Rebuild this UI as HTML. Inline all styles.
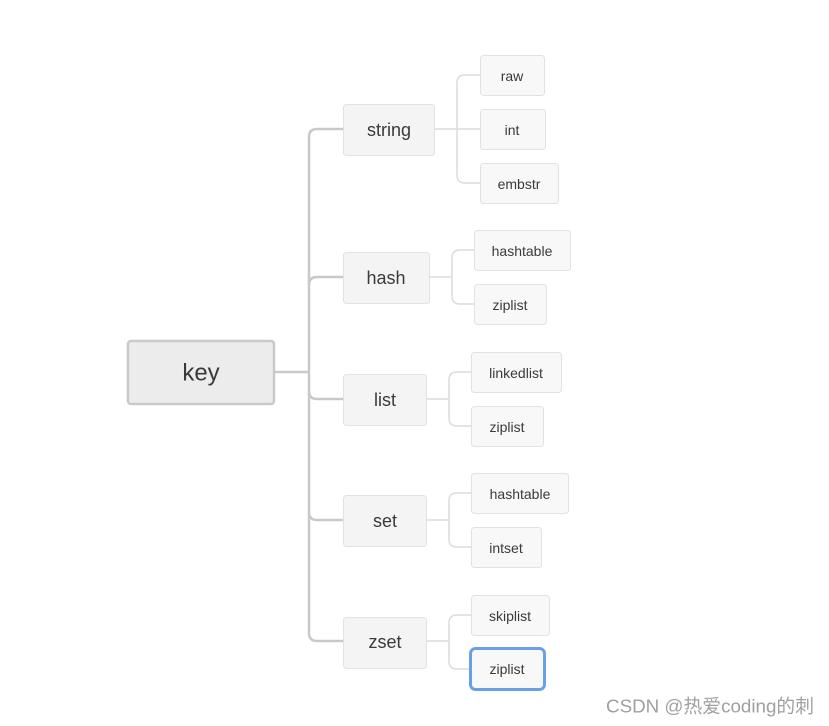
<!DOCTYPE html>
<html><head><meta charset="utf-8"><style>
html,body{margin:0;padding:0;background:#fff;}
svg{display:block;}
text{font-family:"Liberation Sans",Arial,sans-serif;fill:#3a3a3a;text-anchor:middle;dominant-baseline:central;}
</style></head><body>
<svg width="829" height="726" viewBox="0 0 829 726" xmlns="http://www.w3.org/2000/svg">
<g fill="none" stroke="#c9c9c9" stroke-width="2.5">
<path d="M274 372 H309"/>
<path d="M343 129 H317 Q309 129 309 137 V633 Q309 641 317 641 H343"/>
<path d="M309 285 Q309 277 317 277 H343"/>
<path d="M309 391 Q309 399 317 399 H343"/>
<path d="M309 512 Q309 520 317 520 H343"/>
</g>
<g fill="none" stroke="#dcdcdc" stroke-width="1.5">
<path d="M434 129 H480"/>
<path d="M480 75 H465 Q457 75 457 83 V175 Q457 183 465 183 H480"/>
<path d="M429 277 H452"/>
<path d="M474 250 H460 Q452 250 452 258 V296 Q452 304 460 304 H474"/>
<path d="M426 399 H449"/>
<path d="M471 372 H457 Q449 372 449 380 V418 Q449 426 457 426 H471"/>
<path d="M426 520 H449"/>
<path d="M471 493 H457 Q449 493 449 501 V539 Q449 547 457 547 H471"/>
<path d="M426 641 H449"/>
<path d="M471 615 H457 Q449 615 449 623 V661 Q449 669 457 669 H471"/>
</g>
<rect x="128" y="341" width="146" height="63" rx="3" fill="#ececec" stroke="#c9c9c9" stroke-width="2.5"/>
<text x="201" y="373" font-size="24">key</text>
<g fill="#f4f4f4" stroke="#e2e2e2" stroke-width="1">
<rect x="343.5" y="104.5" width="91" height="51" rx="3"/>
<rect x="343.5" y="252.5" width="86" height="51" rx="3"/>
<rect x="343.5" y="374.5" width="83" height="51" rx="3"/>
<rect x="343.5" y="495.5" width="83" height="51" rx="3"/>
<rect x="343.5" y="617.5" width="83" height="51" rx="3"/>
</g>
<g font-size="18">
<text x="389" y="130">string</text>
<text x="386" y="278">hash</text>
<text x="385" y="400">list</text>
<text x="385" y="521">set</text>
<text x="385" y="642">zset</text>
</g>
<g fill="#f8f8f8" stroke="#e2e2e2" stroke-width="1">
<rect x="480.5" y="55.5" width="64" height="40" rx="3"/>
<rect x="480.5" y="109.5" width="65" height="40" rx="3"/>
<rect x="480.5" y="163.5" width="78" height="40" rx="3"/>
<rect x="474.5" y="230.5" width="96" height="40" rx="3"/>
<rect x="474.5" y="284.5" width="72" height="40" rx="3"/>
<rect x="471.5" y="352.5" width="90" height="40" rx="3"/>
<rect x="471.5" y="406.5" width="72" height="40" rx="3"/>
<rect x="471.5" y="473.5" width="97" height="40" rx="3"/>
<rect x="471.5" y="527.5" width="70" height="40" rx="3"/>
<rect x="471.5" y="595.5" width="78" height="40" rx="3"/>
</g>
<rect x="470.5" y="648.5" width="74" height="41" rx="5" fill="#f8f8f8" stroke="#6aa1e6" stroke-width="3"/>
<g font-size="14">
<text x="512" y="76">raw</text>
<text x="512" y="130">int</text>
<text x="519" y="184">embstr</text>
<text x="522" y="251">hashtable</text>
<text x="510" y="305">ziplist</text>
<text x="516" y="373">linkedlist</text>
<text x="507" y="427">ziplist</text>
<text x="520" y="494">hashtable</text>
<text x="506" y="548">intset</text>
<text x="510" y="616">skiplist</text>
<text x="507" y="669">ziplist</text>
</g>
<text x="710" y="706" font-size="18.8" style="fill:#a0a0a0;font-family:'Liberation Sans','Noto Sans CJK SC',sans-serif">CSDN @热爱coding的刺</text>
</svg>
</body></html>
